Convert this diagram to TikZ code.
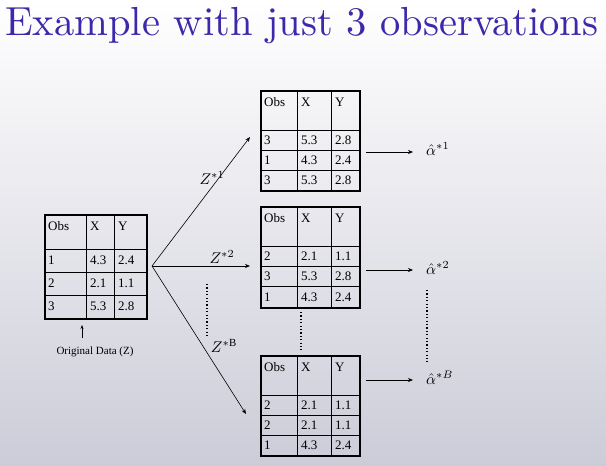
\documentclass[tikz,border=0pt]{standalone}
\usepackage{fontspec}
\setmainfont{Liberation Serif}
\newfontfamily\titlefont{Latin Modern Roman}
\usetikzlibrary{arrows.meta}
\definecolor{titleblue}{RGB}{60,40,170}
\tikzset{
  tblframe/.style={draw, line width=1.6pt},
  tblline/.style={line width=0.7pt},
  cell/.style={font=\fontsize{13}{14}\selectfont, anchor=west, inner sep=0pt},
  conn/.style={-{Stealth[length=5pt,width=4pt]}, line width=0.6pt},
  vdots/.style={line width=1.1pt, dash pattern=on 1.2pt off 2.2pt},
  mlabel/.style={inner sep=1pt},
}
\newcommand{\mlab}[1]{\scalebox{1.55}{$#1$}}
\newcommand{\mytable}[9]{%
  \node[tblframe, anchor=north west, minimum width=#4pt, minimum height=#5pt, inner sep=0pt] (#1) at (#2,#3) {};
  \begin{scope}[shift={(#2,#3)}]
    \draw[tblline] (#6,0) -- (#6,#5); \draw[tblline] (#7,0) -- (#7,#5);
    \pgfmathsetmacro{\rh}{(#5-#8)/3}
    \draw[tblline] (0,#8) -- (#4,#8);
    \draw[tblline] (0,#8+\rh) -- (#4,#8+\rh);
    \draw[tblline] (0,#8+2*\rh) -- (#4,#8+2*\rh);
    \node[cell] at (4,12) {Obs}; \node[cell] at (#6+4,12) {X}; \node[cell] at (#7+4,12) {Y};
    \foreach \a/\b/\c [count=\i] in {#9} {
      \node[cell] at (4,#8+\i*\rh-0.5*\rh) {\a};
      \node[cell] at (#6+4,#8+\i*\rh-0.5*\rh) {\b};
      \node[cell] at (#7+4,#8+\i*\rh-0.5*\rh) {\c};
    }
  \end{scope}}
\begin{document}
\begin{tikzpicture}[x=1pt,y=-1pt]
\shade[top color=white, bottom color=white!93!blue!70!gray] (0,0) rectangle (606,466);
\useasboundingbox (0,0) rectangle (606,466);
\node[anchor=west, inner sep=0pt, text=titleblue] (title) at (5,26) {\resizebox{593pt}{!}{\titlefont Example with just 3 observations}};

\mytable{orig}{44}{214}{102}{104}{42}{70}{35}{1/4.3/2.4, 2/2.1/1.1, 3/5.3/2.8}
\mytable{t1}{260}{90}{99}{100}{37}{71}{40}{3/5.3/2.8, 1/4.3/2.4, 3/5.3/2.8}
\mytable{t2}{260}{206}{99}{101}{37}{71}{40}{2/2.1/1.1, 3/5.3/2.8, 1/4.3/2.4}
\mytable{tb}{260}{355}{99}{100}{37}{71}{40}{2/2.1/1.1, 2/2.1/1.1, 1/4.3/2.4}

\coordinate (src) at (152,266);
\coordinate (e1) at (250,137);
\coordinate (e2) at (250,266);
\coordinate (eb) at (246,414);
\draw[conn] (src) -- (e1);
\draw[conn] (src) -- (e2);
\draw[conn] (src) -- (eb);
\node[mlabel] (z1) at (212,178) {\mlab{Z^{*1}}};
\node[mlabel] (z2) at (222,257) {\mlab{Z^{*2}}};
\node[mlabel] (zb) at (224,346) {\mlab{Z^{*\mathrm{B}}}};
\draw[vdots] (207,284) -- (207,336);
\draw[vdots] (301,312) -- (301,350);

\node[mlabel, anchor=west] (a1) at (425,149) {\mlab{\hat{\alpha}^{*1}}};
\node[mlabel, anchor=west] (a2) at (425,268) {\mlab{\hat{\alpha}^{*2}}};
\node[mlabel, anchor=west] (ab) at (425,378) {\mlab{\hat{\alpha}^{*B}}};
\coordinate (s1) at (366,152); \coordinate (s2) at (366,270); \coordinate (sb) at (366,380);
\draw[conn] (s1) -- (413,152);
\draw[conn] (s2) -- (413,270);
\draw[conn] (sb) -- (413,380);
\draw[vdots] (427,290) -- (427,362);

\node[font=\fontsize{11}{12}\selectfont] (lab) at (95,352) {Original Data (Z)};
\coordinate (up) at (82,338);
\draw[-{Stealth[length=4pt,width=3pt]}, line width=0.6pt] (up) -- (82,325);
\end{tikzpicture}
\end{document}
